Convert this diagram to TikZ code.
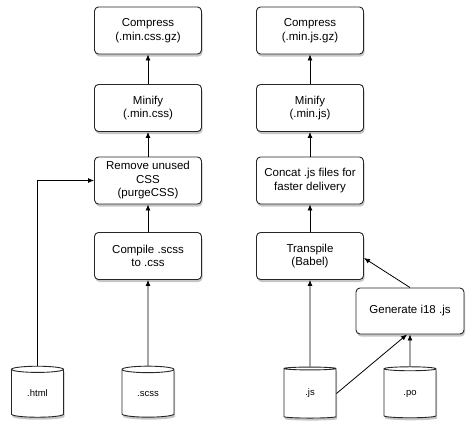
\documentclass[tikz,border=0pt]{standalone}
\usepackage{fontspec}
\setmainfont{Liberation Sans}
\usetikzlibrary{shapes.geometric,shadows,arrows.meta,calc}
\begin{document}
\begin{tikzpicture}[x=1pt,y=-1pt,
  proc/.style={draw=black!85, line width=0.9pt, rounded corners=4pt, fill=white,
    minimum width=107pt, minimum height=47pt, align=center,
    font=\fontsize{11.5}{13.5}\selectfont,
    drop shadow={opacity=0.45, shadow xshift=1pt, shadow yshift=-2.5pt}},
  store/.style={cylinder, shape border rotate=90, aspect=0.3, draw=black!85,
    line width=0.9pt, fill=white, minimum width=52pt, minimum height=51pt,
    font=\fontsize{9.5}{11}\selectfont, inner sep=0pt,
    drop shadow={opacity=0.45, shadow xshift=1pt, shadow yshift=-2.5pt}},
  arr/.style={-{Latex[length=6pt,width=5pt]}, line width=0.8pt, black}]
\useasboundingbox (0,0) rectangle (474,434);
\node[proc] (ccss) at (148,30.5) {Compress\\(.min.css.gz)};
\node[proc] (mcss) at (148,108) {Minify\\(.min.css)};
\node[proc] (rem) at (148,180.5) {Remove unused\\CSS\\(purgeCSS)};
\node[proc] (comp) at (148,256) {Compile .scss\\to .css};
\node[proc] (cjs) at (310,30.5) {Compress\\(.min.js.gz)};
\node[proc] (mjs) at (310,108) {Minify\\(.min.js)};
\node[proc] (cat) at (310,180.5) {Concat .js files for\\faster delivery};
\node[proc] (trans) at (310,256) {Transpile\\(Babel)};
\node[proc, minimum width=108pt, minimum height=46pt] (gen) at (410,311) {Generate i18 .js};
\node[store] (html) at (37.5,393.5) {.html};
\node[store] (scss) at (148,393.5) {.scss};
\node[store] (js) at (310,393.5) {.js};
\node[store] (po) at (410,393.5) {.po};
\draw[arr] (mcss) -- (ccss);
\draw[arr] (rem) -- (mcss);
\draw[arr] (comp) -- (rem);
\draw[arr] (scss.north) -- (comp);
\draw[arr] (html.north) |- (rem.west);
\draw[arr] (mjs) -- (cjs);
\draw[arr] (cat) -- (mjs);
\draw[arr] (trans) -- (cat);
\draw[arr] (js.north) -- (trans);
\draw[arr] (gen.north) -- ($(trans.east)+(0,2)$);
\draw[arr] (js.east) -- ($(gen.south)+(-3,0)$);
\draw[arr] (po.north) -- (gen.south);
\end{tikzpicture}
\end{document}
